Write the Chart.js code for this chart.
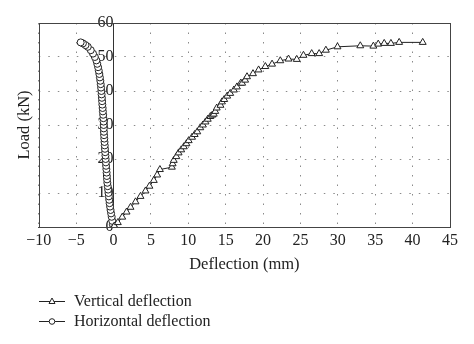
<!DOCTYPE html>
<html>
<head>
<meta charset="utf-8">
<script src="https://cdn.jsdelivr.net/npm/chart.js"></script>
<style>
  html, body { margin: 0; padding: 0; background: #fff; }
  #wrap { width: 474px; height: 344px; }
</style>
</head>
<body>
<div id="wrap"><canvas id="chart" width="474" height="344"></canvas></div>
<script>
// Load vs deflection, vertical (mid-span) and horizontal (lateral)
const vertDeflection = [0, 0.1, 0.57, 1.16, 1.74, 2.27, 2.94, 3.6, 4.27, 4.8, 5.38, 5.83, 6.2,
  7.8, 7.9, 8.05, 8.4, 8.7, 9.05, 9.4, 9.75, 10.05, 10.5, 10.85, 11.2, 11.6, 11.95, 12.3, 12.6,
  12.95, 13.2, 13.4, 13.6, 13.8, 14.3, 14.5, 14.8, 15.2, 15.6, 16.1, 16.5, 17.0, 17.2, 17.6,
  17.85, 18.65, 19.4, 20.3, 21.2, 22.3, 23.4, 24.5, 25.4, 26.5, 27.5, 28.4, 29.95, 33.0, 34.75,
  35.4, 36.2, 37.1, 38.2, 41.35];
const vertLoad = [0, 0.3, 1.3, 2.9, 4.4, 5.8, 7.4, 9.0, 10.6, 12.0, 13.7, 15.3, 16.9,
  17.6, 18.6, 19.6, 20.7, 21.8, 22.7, 23.6, 24.5, 25.4, 26.4, 27.2, 28.0, 29.2, 30.0, 30.9, 31.7,
  32.5, 32.9, 33.2, 34.0, 35.0, 35.8, 36.8, 37.5, 38.5, 39.3, 40.3, 41.2, 42.3, 42.3, 43.2,
  44.2, 45.1, 46.2, 47.2, 47.9, 48.9, 49.4, 49.3, 50.5, 51.0, 51.0, 52.0, 53.0, 53.3, 53.2,
  53.8, 54.0, 54.0, 54.3, 54.3];

const horizDeflection = [0, -0.1, -0.17, -0.25, -0.33, -0.4, -0.47, -0.53, -0.58, -0.63, -0.68,
  -0.73, -0.78, -0.83, -0.87, -0.9, -0.93, -0.96, -1.0, -1.03, -1.06, -1.09, -1.12, -1.15, -1.18,
  -1.21, -1.24, -1.27, -1.29, -1.31, -1.32, -1.33, -1.36, -1.39, -1.43, -1.46, -1.5, -1.53, -1.56,
  -1.6, -1.63, -1.67, -1.72, -1.77, -1.83, -1.9, -1.98, -2.07, -2.18, -2.3, -2.5, -2.75, -3.05,
  -3.45, -3.75, -4.1, -4.4];
const horizLoad = [0, 0.8, 1.8, 3, 4, 5, 6, 7, 8, 9, 10,
  11, 12, 13, 14, 15, 16, 17, 18, 19, 20, 21, 22, 23, 24,
  25, 26, 27, 28, 29, 30, 31, 32, 33, 34, 35, 36, 37, 38,
  39, 40, 41, 42, 43, 44, 45, 46, 47, 48, 49, 50, 51, 52,
  53, 53.5, 54, 54.3];

const xTicks = [-10, -5, 0, 5, 10, 15, 20, 25, 30, 35, 40, 45];
const yTicks = [0, 10, 20, 30, 40, 50, 60];

const seriesNames = ['Vertical deflection', 'Horizontal deflection'];

const FONT = "'Liberation Serif', 'DejaVu Serif', serif";
const INK = '#222';
const GRID = '#8a8a8a';
const DOTS = [1.5, 8];

function toPoints(xs, ys) {
  return xs.map((x, i) => ({ x: x, y: ys[i] }));
}

// minus sign instead of hyphen on the tick labels
function fmt(v) {
  return String(v).replace('-', '\u2212');
}

// frame around the plot area
const framePlugin = {
  id: 'frame',
  afterDraw(chart) {
    const { ctx, chartArea: a } = chart;
    ctx.save();
    ctx.strokeStyle = '#444';
    ctx.lineWidth = 1;
    ctx.strokeRect(Math.round(a.left) + 0.5, Math.round(a.top) + 0.5,
      Math.round(a.right - a.left), Math.round(a.bottom - a.top));
    ctx.restore();
  }
};

// legend below the axis: short line with a marker in the middle
const legendPlugin = {
  id: 'lineLegend',
  afterDraw(chart) {
    const ctx = chart.ctx;
    const styles = ['triangle', 'circle'];
    ctx.save();
    seriesNames.forEach((name, i) => {
      const y = 301 + i * 20;
      ctx.strokeStyle = INK;
      ctx.lineWidth = 1;
      ctx.beginPath();
      ctx.moveTo(39, y + 0.5);
      ctx.lineTo(65, y + 0.5);
      ctx.stroke();
      ctx.fillStyle = '#fff';
      ctx.beginPath();
      if (styles[i] === 'triangle') {
        ctx.moveTo(52, y - 3);
        ctx.lineTo(55, y + 2.5);
        ctx.lineTo(49, y + 2.5);
        ctx.closePath();
      } else {
        ctx.arc(52, y + 0.5, 2.8, 0, Math.PI * 2);
      }
      ctx.fill();
      ctx.stroke();
      ctx.fillStyle = INK;
      ctx.font = "16px " + FONT;
      ctx.textBaseline = 'middle';
      ctx.fillText(name, 74, y + 1);
    });
    ctx.restore();
  }
};

new Chart(document.getElementById('chart'), {
  type: 'scatter',
  data: {
    datasets: [
      {
        label: seriesNames[0],
        data: toPoints(vertDeflection, vertLoad),
        showLine: true,
        borderColor: INK,
        borderWidth: 1,
        pointStyle: 'triangle',
        pointRadius: 4,
        pointBorderWidth: 1,
        pointBackgroundColor: '#fff',
        pointBorderColor: INK
      },
      {
        label: seriesNames[1],
        data: toPoints(horizDeflection, horizLoad),
        showLine: true,
        borderColor: INK,
        borderWidth: 1,
        pointStyle: 'circle',
        pointRadius: 3.5,
        pointBorderWidth: 1,
        pointBackgroundColor: '#fff',
        pointBorderColor: INK
      }
    ]
  },
  options: {
    responsive: false,
    animation: false,
    layout: { padding: { top: 23, right: 24, bottom: 69, left: 15 } },
    plugins: { legend: { display: false }, tooltip: { enabled: false } },
    scales: {
      x: {
        type: 'linear',
        min: -10,
        max: 45,
        afterBuildTicks: axis => { axis.ticks = xTicks.map(v => ({ value: v })); },
        ticks: {
          color: INK,
          font: { family: FONT, size: 16 },
          padding: 4,
          maxRotation: 0,
          callback: v => fmt(v)
        },
        grid: { color: GRID, lineWidth: 1, drawTicks: false },
        border: { display: true, color: '#444', dash: DOTS },
        title: {
          display: true,
          text: 'Deflection (mm)',
          color: INK,
          font: { family: FONT, size: 16.5 },
          padding: { top: 1, bottom: 0 }
        }
      },
      y: {
        type: 'linear',
        position: { x: 0 },
        min: 0,
        max: 60,
        afterBuildTicks: axis => { axis.ticks = yTicks.map(v => ({ value: v })); },
        ticks: {
          color: INK,
          font: { family: FONT, size: 16 },
          padding: 3,
          callback: v => fmt(v)
        },
        grid: { color: GRID, lineWidth: 1, drawTicks: false },
        border: { display: true, color: '#333', width: 1, dash: DOTS }
      },
      yTitle: {
        type: 'linear',
        position: 'left',
        min: 0,
        max: 60,
        ticks: { display: false },
        grid: { display: false, drawTicks: false },
        border: { display: false },
        title: {
          display: true,
          text: 'Load (kN)',
          color: INK,
          font: { family: FONT, size: 16.5 },
          padding: { top: 0, bottom: 4 }
        }
      }
    }
  },
  plugins: [framePlugin, legendPlugin]
});
</script>
</body>
</html>
